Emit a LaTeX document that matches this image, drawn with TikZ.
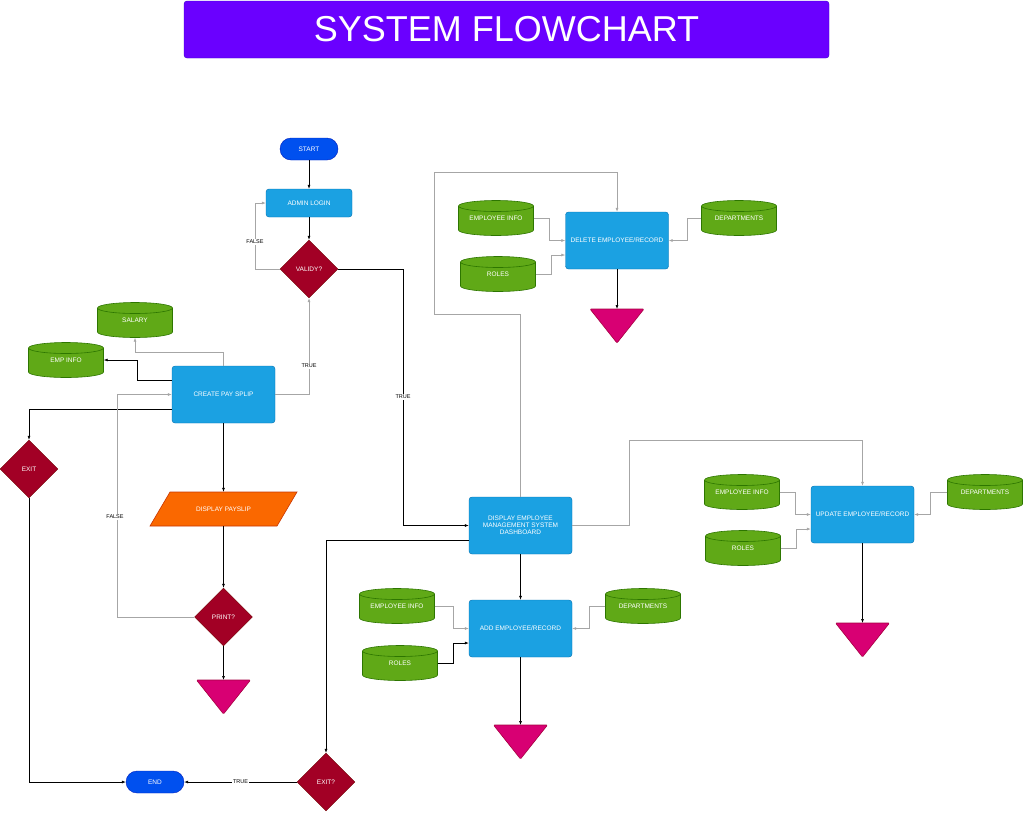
\documentclass[tikz,border=0pt]{standalone}
\usepackage{fontspec}
\setmainfont{Liberation Sans}
\usetikzlibrary{shapes.geometric,arrows.meta}
\definecolor{procF}{HTML}{1BA1E2}\definecolor{procD}{HTML}{006EAF}
\definecolor{decF}{HTML}{A20025}\definecolor{decD}{HTML}{6F0000}
\definecolor{dbF}{HTML}{60A917}\definecolor{dbD}{HTML}{2D7600}
\definecolor{termF}{HTML}{0050EF}\definecolor{termD}{HTML}{001DBC}
\definecolor{triF}{HTML}{D80073}\definecolor{triD}{HTML}{A50040}
\definecolor{titF}{HTML}{6A00FF}\definecolor{titD}{HTML}{3700CC}
\definecolor{ioF}{HTML}{FA6800}\definecolor{ioD}{HTML}{C73500}
\tikzset{
 txt/.style={text=white,font=\fontsize{6.5}{7}\selectfont,align=center},
 proc/.style={txt,draw=procD,fill=procF,rounded corners=3pt,minimum width=103pt,minimum height=57pt,inner sep=1pt},
 dec/.style={txt,draw=decD,fill=decF,diamond,minimum width=58pt,minimum height=58pt,inner sep=0pt},
 term/.style={txt,draw=termD,fill=termF,rounded corners=11pt,minimum width=58pt,minimum height=22pt},
 box/.style={txt,minimum width=75pt,minimum height=35pt,inner sep=0pt},
 ar/.style={-{Latex[length=4pt,width=3pt]},black,line width=0.6pt},
 gar/.style={ar,draw=black!35},
 lbl/.style={fill=white,font=\fontsize{5.5}{6}\selectfont,inner sep=1pt,text=black},
}
\newcommand{\mycyl}[4]{%
 \fill[dbF,draw=dbD,line width=0.6pt] (#2-37.5,#3-12) -- (#2-37.5,#3+12) arc[start angle=180,end angle=0,x radius=37.5,y radius=5.5] -- (#2+37.5,#3-12) arc[start angle=0,end angle=-180,x radius=37.5,y radius=5.5];
 \draw[dbD,line width=0.6pt] (#2-37.5,#3-12) arc[start angle=180,end angle=0,x radius=37.5,y radius=5.5];
 \node[box] (#1) at (#2,#3) {#4};}
\newcommand{\mytri}[3]{%
 \filldraw[fill=triF,draw=triD,line width=0.6pt,rounded corners=1pt] (#2-27,#3-17) -- (#2+27,#3-17) -- (#2,#3+17) -- cycle;
 \coordinate (#1) at (#2,#3-17);}
\begin{document}
\begin{tikzpicture}[x=1pt,y=-1pt]
\useasboundingbox (0,0) rectangle (1024,812);
\node[draw=titD,fill=titF,rounded corners=3pt,minimum width=645pt,minimum height=57pt,text=white,font=\fontsize{36}{40}\selectfont] (title) at (506.5,29.5) {SYSTEM FLOWCHART};
\node[term] (start) at (309,149) {START};
\node[proc,minimum height=28pt,minimum width=86pt] (login) at (309,203) {ADMIN LOGIN};
\node[dec] (valid) at (309,269) {VALIDY?};
\mycyl{salary}{135}{320}{SALARY}
\mycyl{empinfo}{66}{360}{EMP INFO}
\node[proc] (pay) at (223.5,394.5) {CREATE PAY SPLIP};
\node[dec] (exit) at (29,469) {EXIT};
\filldraw[fill=ioF,draw=ioD,line width=0.6pt] (170,492) -- (297,492) -- (277,526) -- (150,526) -- cycle;
\node[box,minimum width=120pt,minimum height=34pt] (disp) at (223.5,509) {DISPLAY PAYSLIP};
\node[dec] (print) at (223.5,617) {PRINT?};
\mytri{t1}{223.5}{697}
\node[term] (end) at (155,782) {END};
\node[dec] (exit2) at (326,782) {EXIT?};
\node[proc] (dash) at (520.5,525.5) {DISPLAY EMPLOYEE\\MANAGEMENT SYSTEM\\DASHBOARD};
\node[proc] (add) at (520.5,628.5) {ADD EMPLOYEE/RECORD};
\mycyl{aei}{397}{606}{EMPLOYEE INFO}
\mycyl{aro}{400}{663}{ROLES}
\mycyl{ade}{643}{606}{DEPARTMENTS}
\mytri{t2}{520.5}{742}
\node[proc] (del) at (617,240.5) {DELETE EMPLOYEE/RECORD};
\mycyl{dei}{496}{218}{EMPLOYEE INFO}
\mycyl{dro}{498}{274}{ROLES}
\mycyl{dde}{739}{218}{DEPARTMENTS}
\mytri{t3}{617}{326}
\node[proc] (upd) at (862.5,514.5) {UPDATE EMPLOYEE/RECORD};
\mycyl{uei}{742}{492}{EMPLOYEE INFO}
\mycyl{uro}{743}{548}{ROLES}
\mycyl{ude}{985}{492}{DEPARTMENTS}
\mytri{t4}{862.5}{640}
% connectors
\draw[ar] (start) -- (login);
\draw[ar] (login) -- (valid);
\draw[gar] (valid.west) -- (255,269) |- (login.west);
\node[lbl] (lf1) at (255,242) {FALSE};
\draw[ar] (valid.east) -- (403,269) |- (dash.west);
\node[lbl] (lt1) at (403,397) {TRUE};
\draw[gar] (pay.east) -| (valid.south);
\node[lbl] (lt2) at (309,366) {TRUE};
\draw[gar] (pay.north) |- (135,352) -- (salary.south);
\draw[ar] (pay.west|-0,380) -- (137,380) |- (empinfo.east);
\draw[ar] (pay.west|-0,409) -| (exit.north);
\draw[ar] (exit.south) |- (end.west);
\draw[ar] (pay.south) -- (disp.north);
\draw[ar] (disp.south) -- (print.north);
\draw[gar] (print.west) -- (117,617) |- (pay.west);
\node[lbl] (lf2) at (115,517) {FALSE};
\draw[ar] (print.south) -- (t1);
\draw[ar] (exit2.west) -- (end.east) node[midway,lbl]{TRUE};
\draw[ar] (dash.west|-0,540) -| (exit2.north);
\draw[gar] (dash.north) -- (520.5,314) -- (434,314) -- (434,172) -| (del.north);
\draw[gar] (dash.east) -- (629,525.5) -- (629,440) -| (upd.north);
\draw[ar] (dash) -- (add);
\draw[ar] (add) -- (t2);
\draw[ar] (del) -- (t3);
\draw[ar] (upd) -- (t4);
\draw[gar] (aei.east) -- (453,606) |- (add.west);
\draw[ar] (aro.east) -- (453,663) |- (add.west|-0,643);
\draw[gar] (ade.west) -- (589,606) |- (add.east);
\draw[gar] (dei.east) -- (549,218) |- (del.west);
\draw[gar] (dro.east) -- (551,274) |- (del.west|-0,255);
\draw[gar] (dde.west) -- (687,218) |- (del.east);
\draw[gar] (uei.east) -- (795,492) |- (upd.west);
\draw[gar] (uro.east) -- (796,548) |- (upd.west|-0,529);
\draw[gar] (ude.west) -- (930,492) |- (upd.east);
\end{tikzpicture}
\end{document}
